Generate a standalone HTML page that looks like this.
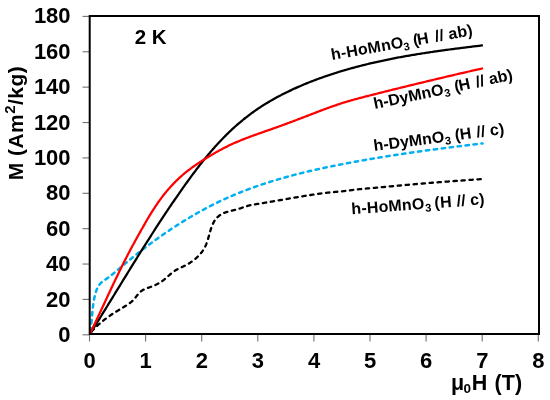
<!DOCTYPE html>
<html><head><meta charset="utf-8"><style>
html,body{margin:0;padding:0;background:#fff;width:550px;height:400px;overflow:hidden}
svg{display:block}
</style></head><body>
<svg width="550" height="400" viewBox="0 0 550 400">
<rect width="550" height="400" fill="#fff"/>
<g stroke="#707070" stroke-width="1.1"><line x1="82.5" y1="334.80" x2="89" y2="334.80"/><line x1="82.5" y1="299.42" x2="89" y2="299.42"/><line x1="82.5" y1="264.04" x2="89" y2="264.04"/><line x1="82.5" y1="228.67" x2="89" y2="228.67"/><line x1="82.5" y1="193.29" x2="89" y2="193.29"/><line x1="82.5" y1="157.91" x2="89" y2="157.91"/><line x1="82.5" y1="122.53" x2="89" y2="122.53"/><line x1="82.5" y1="87.15" x2="89" y2="87.15"/><line x1="82.5" y1="51.78" x2="89" y2="51.78"/><line x1="82.5" y1="16.40" x2="89" y2="16.40"/><line x1="89.50" y1="335" x2="89.50" y2="341.5"/><line x1="145.60" y1="335" x2="145.60" y2="341.5"/><line x1="201.70" y1="335" x2="201.70" y2="341.5"/><line x1="257.80" y1="335" x2="257.80" y2="341.5"/><line x1="313.90" y1="335" x2="313.90" y2="341.5"/><line x1="370.00" y1="335" x2="370.00" y2="341.5"/><line x1="426.10" y1="335" x2="426.10" y2="341.5"/><line x1="482.20" y1="335" x2="482.20" y2="341.5"/><line x1="538.30" y1="335" x2="538.30" y2="341.5"/></g>
<g fill="none" stroke-linecap="butt" stroke-linejoin="round">
<path d="M89.58,333.92 L90.23,333.13 L90.89,332.35 L91.55,331.59 L92.23,330.83 L92.91,330.09 L93.60,329.36 L94.29,328.63 L94.99,327.92 L95.70,327.22 L96.41,326.52 L97.14,325.84 L97.86,325.16 L98.60,324.50 L99.34,323.84 L100.09,323.19 L100.84,322.55 L101.60,321.92 L102.37,321.29 L103.15,320.67 L103.93,320.06 L104.71,319.46 L105.50,318.86 L106.30,318.27 L107.11,317.68 L107.92,317.10 L108.74,316.52 L109.56,315.95 L110.39,315.39 L111.23,314.83 L112.07,314.27 L112.91,313.72 L113.77,313.17 L114.63,312.62 L115.49,312.08 L116.36,311.54 L117.23,311.00 L118.10,310.47 L118.97,309.94 L119.85,309.41 L120.72,308.88 L121.59,308.35 L122.45,307.82 L123.31,307.29 L124.17,306.76 L125.01,306.23 L125.85,305.70 L126.68,305.17 L127.50,304.63 L128.31,304.10 L129.11,303.55 L129.89,303.00 L130.65,302.42 L131.40,301.81 L132.14,301.17 L132.85,300.48 L133.55,299.75 L134.23,298.99 L134.90,298.21 L135.55,297.41 L136.19,296.61 L136.82,295.80 L137.45,295.00 L138.10,294.22 L138.76,293.47 L139.45,292.74 L140.15,292.06 L140.89,291.42 L141.66,290.84 L142.46,290.31 L143.29,289.83 L144.15,289.39 L145.03,288.99 L145.93,288.61 L146.85,288.26 L147.78,287.93 L148.73,287.60 L149.68,287.27 L150.64,286.94 L151.60,286.60 L152.57,286.24 L153.53,285.85 L154.48,285.44 L155.42,285.01 L156.36,284.56 L157.27,284.09 L158.17,283.61 L159.05,283.11 L159.91,282.59 L160.74,282.06 L161.56,281.52 L162.36,280.96 L163.14,280.38 L163.91,279.80 L164.68,279.19 L165.43,278.57 L166.19,277.93 L166.93,277.28 L167.68,276.61 L168.43,275.93 L169.19,275.24 L169.95,274.55 L170.71,273.87 L171.49,273.21 L172.29,272.58 L173.09,271.97 L173.92,271.40 L174.75,270.85 L175.60,270.34 L176.46,269.84 L177.33,269.37 L178.21,268.91 L179.09,268.46 L179.98,268.02 L180.87,267.59 L181.77,267.16 L182.66,266.73 L183.56,266.30 L184.46,265.86 L185.35,265.41 L186.23,264.95 L187.12,264.47 L187.99,263.97 L188.86,263.46 L189.72,262.93 L190.57,262.38 L191.41,261.82 L192.23,261.24 L193.05,260.65 L193.86,260.03 L194.65,259.41 L195.43,258.76 L196.19,258.10 L196.93,257.43 L197.67,256.73 L198.38,256.03 L199.07,255.30 L199.75,254.56 L200.41,253.81 L201.04,253.04 L201.66,252.26 L202.25,251.46 L202.82,250.64 L203.36,249.81 L203.88,248.97 L204.38,248.11 L204.85,247.23 L205.29,246.34 L205.70,245.44 L206.10,244.53 L206.47,243.60 L206.82,242.66 L207.15,241.72 L207.47,240.76 L207.78,239.80 L208.07,238.84 L208.36,237.87 L208.64,236.89 L208.91,235.92 L209.18,234.94 L209.45,233.96 L209.73,232.99 L210.01,232.01 L210.29,231.05 L210.58,230.08 L210.89,229.12 L211.20,228.17 L211.53,227.23 L211.88,226.29 L212.24,225.36 L212.63,224.44 L213.04,223.54 L213.48,222.65 L213.95,221.77 L214.46,220.92 L215.00,220.09 L215.59,219.28 L216.22,218.50 L216.89,217.76 L217.61,217.04 L218.37,216.36 L219.16,215.73 L219.98,215.13 L220.83,214.58 L221.69,214.08 L222.57,213.62 L223.47,213.20 L224.38,212.82 L225.30,212.47 L226.23,212.15 L227.18,211.86 L228.13,211.59 L229.09,211.33 L230.05,211.09 L231.02,210.86 L231.99,210.63 L232.96,210.41 L233.94,210.18 L234.91,209.95 L235.88,209.70 L236.85,209.45 L237.83,209.18 L238.80,208.89 L239.77,208.57 L240.74,208.24 L241.72,207.89 L242.69,207.54 L243.66,207.19 L244.63,206.85 L245.61,206.52 L246.58,206.22 L247.55,205.94 L248.52,205.69 L249.50,205.45 L250.47,205.23 L251.45,205.02 L252.42,204.83 L253.39,204.65 L254.37,204.47 L255.34,204.31 L256.32,204.15 L257.30,203.99 L258.27,203.83 L259.25,203.67 L260.23,203.51 L261.20,203.35 L262.18,203.19 L263.16,203.03 L264.14,202.86 L265.12,202.70 L266.10,202.53 L267.08,202.37 L268.06,202.20 L269.04,202.03 L270.02,201.87 L271.00,201.70 L271.98,201.53 L272.96,201.36 L273.95,201.19 L274.93,201.02 L275.91,200.85 L276.90,200.68 L277.88,200.51 L278.86,200.34 L279.85,200.17 L280.83,200.00 L281.82,199.83 L282.80,199.65 L283.79,199.48 L284.78,199.31 L285.76,199.14 L286.75,198.97 L287.74,198.80 L288.72,198.62 L289.71,198.45 L290.70,198.28 L291.69,198.11 L292.67,197.94 L293.66,197.77 L294.65,197.60 L295.64,197.43 L296.63,197.27 L297.62,197.10 L298.61,196.93 L299.60,196.76 L300.59,196.60 L301.58,196.43 L302.57,196.27 L303.56,196.11 L304.55,195.94 L305.54,195.78 L306.53,195.62 L307.52,195.47 L308.52,195.31 L309.51,195.16 L310.50,195.00 L311.49,194.85 L312.48,194.70 L313.48,194.55 L314.47,194.41 L315.46,194.26 L316.46,194.12 L317.45,193.98 L318.44,193.84 L319.43,193.71 L320.43,193.57 L321.42,193.44 L322.41,193.31 L323.41,193.19 L324.40,193.07 L325.40,192.95 L326.39,192.83 L327.38,192.71 L328.38,192.60 L329.37,192.50 L330.37,192.39 L331.36,192.29 L332.35,192.19 L333.35,192.10 L334.34,192.00 L335.34,191.91 L336.33,191.83 L337.33,191.74 L338.32,191.65 L339.32,191.57 L340.31,191.48 L341.31,191.39 L342.30,191.29 L343.30,191.19 L344.29,191.09 L345.29,190.98 L346.28,190.87 L347.28,190.75 L348.27,190.62 L349.27,190.50 L350.26,190.37 L351.26,190.23 L352.25,190.10 L353.25,189.97 L354.24,189.84 L355.24,189.71 L356.23,189.58 L357.23,189.46 L358.22,189.34 L359.22,189.23 L360.21,189.12 L361.21,189.02 L362.21,188.92 L363.20,188.82 L364.20,188.73 L365.19,188.64 L366.19,188.55 L367.18,188.47 L368.18,188.38 L369.18,188.30 L370.17,188.22 L371.17,188.13 L372.16,188.05 L373.16,187.96 L374.16,187.87 L375.15,187.79 L376.15,187.70 L377.15,187.61 L378.14,187.52 L379.14,187.43 L380.13,187.34 L381.13,187.25 L382.13,187.16 L383.12,187.07 L384.12,186.98 L385.12,186.89 L386.11,186.79 L387.11,186.70 L388.11,186.61 L389.10,186.52 L390.10,186.43 L391.10,186.33 L392.09,186.24 L393.09,186.15 L394.09,186.06 L395.08,185.96 L396.08,185.87 L397.08,185.78 L398.07,185.69 L399.07,185.60 L400.07,185.50 L401.06,185.41 L402.06,185.32 L403.06,185.23 L404.06,185.14 L405.05,185.05 L406.05,184.96 L407.05,184.87 L408.04,184.78 L409.04,184.69 L410.04,184.60 L411.04,184.52 L412.03,184.43 L413.03,184.34 L414.03,184.25 L415.03,184.17 L416.02,184.08 L417.02,184.00 L418.02,183.91 L419.02,183.83 L420.01,183.75 L421.01,183.66 L422.01,183.58 L423.01,183.50 L424.00,183.41 L425.00,183.33 L426.00,183.25 L427.00,183.17 L427.99,183.09 L428.99,183.01 L429.99,182.93 L430.99,182.85 L431.99,182.77 L432.98,182.69 L433.98,182.61 L434.98,182.53 L435.98,182.45 L436.98,182.38 L437.97,182.30 L438.97,182.22 L439.97,182.14 L440.97,182.07 L441.97,181.99 L442.96,181.91 L443.96,181.84 L444.96,181.76 L445.96,181.69 L446.96,181.61 L447.95,181.54 L448.95,181.46 L449.95,181.39 L450.95,181.31 L451.95,181.24 L452.95,181.16 L453.94,181.09 L454.94,181.02 L455.94,180.94 L456.94,180.87 L457.94,180.80 L458.94,180.72 L459.93,180.65 L460.93,180.58 L461.93,180.50 L462.93,180.43 L463.93,180.36 L464.93,180.29 L465.92,180.21 L466.92,180.14 L467.92,180.07 L468.92,180.00 L469.92,179.93 L470.92,179.86 L471.92,179.78 L472.91,179.71 L473.91,179.64 L474.91,179.57 L475.91,179.50 L476.91,179.43 L477.91,179.36 L478.91,179.28 L479.90,179.21 L480.90,179.14 L481.90,179.07 L482.90,179.00" stroke="#000" stroke-width="2.3" stroke-linecap="round" stroke-dasharray="3.4,4.6" stroke-dashoffset="-3"/>
<path d="M89.71,333.93 L89.91,332.98 L90.10,332.02 L90.28,331.05 L90.45,330.08 L90.61,329.11 L90.76,328.13 L90.90,327.15 L91.03,326.16 L91.15,325.17 L91.27,324.18 L91.38,323.18 L91.49,322.18 L91.59,321.18 L91.68,320.18 L91.77,319.17 L91.86,318.17 L91.95,317.16 L92.04,316.15 L92.13,315.14 L92.21,314.13 L92.30,313.12 L92.39,312.12 L92.49,311.11 L92.58,310.10 L92.69,309.09 L92.79,308.09 L92.90,307.08 L93.02,306.08 L93.15,305.08 L93.28,304.08 L93.42,303.09 L93.57,302.09 L93.73,301.10 L93.90,300.12 L94.09,299.14 L94.28,298.16 L94.49,297.19 L94.71,296.22 L94.95,295.25 L95.20,294.29 L95.47,293.34 L95.76,292.39 L96.06,291.45 L96.38,290.52 L96.73,289.60 L97.11,288.69 L97.51,287.81 L97.95,286.94 L98.42,286.10 L98.94,285.29 L99.50,284.51 L100.10,283.76 L100.75,283.05 L101.45,282.37 L102.21,281.75 L103.01,281.15 L103.85,280.58 L104.70,280.02 L105.55,279.46 L106.39,278.89 L107.22,278.31 L108.05,277.72 L108.86,277.12 L109.67,276.51 L110.47,275.89 L111.27,275.27 L112.05,274.65 L112.84,274.01 L113.62,273.37 L114.39,272.73 L115.16,272.09 L115.93,271.44 L116.69,270.79 L117.46,270.14 L118.22,269.49 L118.98,268.83 L119.74,268.18 L120.51,267.53 L121.27,266.88 L122.03,266.24 L122.80,265.59 L123.56,264.94 L124.33,264.30 L125.09,263.66 L125.86,263.02 L126.63,262.38 L127.40,261.74 L128.17,261.11 L128.94,260.47 L129.71,259.84 L130.48,259.21 L131.26,258.58 L132.03,257.95 L132.80,257.32 L133.58,256.70 L134.36,256.07 L135.14,255.45 L135.91,254.83 L136.69,254.21 L137.47,253.59 L138.26,252.97 L139.04,252.36 L139.82,251.74 L140.61,251.13 L141.39,250.52 L142.18,249.91 L142.97,249.30 L143.76,248.70 L144.55,248.09 L145.34,247.49 L146.13,246.89 L146.92,246.29 L147.72,245.69 L148.51,245.09 L149.31,244.50 L150.11,243.90 L150.91,243.31 L151.71,242.72 L152.51,242.13 L153.31,241.54 L154.11,240.96 L154.92,240.37 L155.73,239.79 L156.53,239.21 L157.34,238.63 L158.15,238.05 L158.97,237.47 L159.78,236.89 L160.59,236.32 L161.41,235.75 L162.23,235.18 L163.05,234.61 L163.87,234.04 L164.69,233.47 L165.51,232.91 L166.33,232.35 L167.16,231.79 L167.99,231.23 L168.82,230.67 L169.65,230.11 L170.48,229.56 L171.31,229.00 L172.15,228.45 L172.98,227.90 L173.82,227.35 L174.66,226.80 L175.50,226.26 L176.34,225.71 L177.19,225.17 L178.03,224.63 L178.88,224.09 L179.73,223.56 L180.58,223.02 L181.43,222.49 L182.29,221.96 L183.14,221.43 L184.00,220.90 L184.85,220.37 L185.71,219.85 L186.57,219.32 L187.44,218.80 L188.30,218.29 L189.17,217.77 L190.03,217.25 L190.90,216.74 L191.77,216.23 L192.64,215.72 L193.51,215.22 L194.38,214.71 L195.26,214.21 L196.13,213.71 L197.01,213.21 L197.89,212.72 L198.77,212.23 L199.65,211.74 L200.53,211.25 L201.41,210.76 L202.30,210.28 L203.18,209.80 L204.07,209.32 L204.96,208.84 L205.85,208.37 L206.74,207.90 L207.63,207.43 L208.52,206.96 L209.41,206.50 L210.31,206.04 L211.20,205.58 L212.10,205.12 L213.00,204.67 L213.90,204.22 L214.80,203.77 L215.70,203.32 L216.60,202.88 L217.50,202.44 L218.41,202.00 L219.31,201.57 L220.22,201.14 L221.12,200.71 L222.03,200.29 L222.94,199.86 L223.85,199.44 L224.76,199.03 L225.67,198.61 L226.58,198.20 L227.50,197.79 L228.41,197.39 L229.33,196.98 L230.24,196.58 L231.16,196.19 L232.08,195.79 L233.00,195.40 L233.91,195.01 L234.83,194.62 L235.76,194.24 L236.68,193.86 L237.60,193.48 L238.52,193.10 L239.45,192.73 L240.37,192.36 L241.30,191.99 L242.23,191.62 L243.16,191.26 L244.08,190.90 L245.01,190.54 L245.94,190.18 L246.88,189.83 L247.81,189.47 L248.74,189.13 L249.67,188.78 L250.61,188.43 L251.54,188.09 L252.48,187.75 L253.41,187.41 L254.35,187.08 L255.29,186.75 L256.23,186.42 L257.17,186.09 L258.11,185.76 L259.05,185.44 L259.99,185.12 L260.93,184.80 L261.88,184.48 L262.82,184.16 L263.77,183.85 L264.71,183.54 L265.66,183.23 L266.60,182.93 L267.55,182.62 L268.50,182.32 L269.45,182.02 L270.40,181.72 L271.35,181.42 L272.30,181.13 L273.25,180.84 L274.20,180.55 L275.16,180.26 L276.11,179.97 L277.06,179.69 L278.02,179.41 L278.97,179.13 L279.93,178.85 L280.89,178.57 L281.84,178.29 L282.80,178.02 L283.76,177.75 L284.72,177.48 L285.68,177.21 L286.64,176.95 L287.60,176.68 L288.56,176.42 L289.52,176.16 L290.48,175.90 L291.45,175.64 L292.41,175.39 L293.37,175.13 L294.34,174.88 L295.30,174.63 L296.27,174.38 L297.24,174.13 L298.20,173.89 L299.17,173.64 L300.14,173.40 L301.11,173.16 L302.08,172.92 L303.04,172.68 L304.01,172.44 L304.98,172.21 L305.96,171.97 L306.93,171.74 L307.90,171.51 L308.87,171.28 L309.84,171.05 L310.82,170.82 L311.79,170.60 L312.76,170.37 L313.74,170.15 L314.71,169.93 L315.69,169.71 L316.67,169.49 L317.64,169.27 L318.62,169.05 L319.60,168.84 L320.57,168.62 L321.55,168.41 L322.53,168.20 L323.51,167.99 L324.49,167.78 L325.47,167.57 L326.45,167.36 L327.43,167.16 L328.41,166.95 L329.39,166.75 L330.37,166.54 L331.35,166.34 L332.33,166.14 L333.31,165.94 L334.30,165.74 L335.28,165.54 L336.26,165.35 L337.25,165.15 L338.23,164.96 L339.22,164.76 L340.20,164.57 L341.19,164.38 L342.17,164.18 L343.16,163.99 L344.14,163.80 L345.13,163.61 L346.11,163.43 L347.10,163.24 L348.09,163.05 L349.07,162.87 L350.06,162.68 L351.05,162.50 L352.04,162.31 L353.03,162.13 L354.01,161.95 L355.00,161.77 L355.99,161.59 L356.98,161.41 L357.97,161.23 L358.96,161.05 L359.95,160.87 L360.94,160.69 L361.93,160.52 L362.92,160.34 L363.91,160.17 L364.90,159.99 L365.89,159.82 L366.88,159.65 L367.87,159.48 L368.86,159.30 L369.86,159.13 L370.85,158.96 L371.84,158.80 L372.83,158.63 L373.82,158.46 L374.81,158.29 L375.81,158.13 L376.80,157.96 L377.79,157.80 L378.78,157.63 L379.78,157.47 L380.77,157.31 L381.76,157.14 L382.76,156.98 L383.75,156.82 L384.74,156.66 L385.73,156.50 L386.73,156.34 L387.72,156.18 L388.71,156.03 L389.71,155.87 L390.70,155.71 L391.69,155.56 L392.69,155.40 L393.68,155.25 L394.68,155.09 L395.67,154.94 L396.66,154.79 L397.66,154.64 L398.65,154.49 L399.64,154.33 L400.64,154.18 L401.63,154.04 L402.62,153.89 L403.62,153.74 L404.61,153.59 L405.61,153.44 L406.60,153.30 L407.59,153.15 L408.59,153.00 L409.58,152.86 L410.57,152.72 L411.57,152.57 L412.56,152.43 L413.55,152.29 L414.55,152.14 L415.54,152.00 L416.53,151.86 L417.52,151.72 L418.52,151.58 L419.51,151.44 L420.50,151.30 L421.49,151.16 L422.49,151.03 L423.48,150.89 L424.47,150.75 L425.46,150.62 L426.45,150.48 L427.45,150.35 L428.44,150.21 L429.43,150.08 L430.42,149.94 L431.41,149.81 L432.40,149.68 L433.39,149.54 L434.38,149.41 L435.37,149.28 L436.36,149.15 L437.35,149.02 L438.34,148.89 L439.33,148.76 L440.32,148.63 L441.31,148.50 L442.30,148.37 L443.29,148.25 L444.28,148.12 L445.26,147.99 L446.25,147.87 L447.24,147.74 L448.23,147.62 L449.22,147.49 L450.20,147.37 L451.19,147.24 L452.18,147.12 L453.16,146.99 L454.15,146.87 L455.13,146.75 L456.12,146.63 L457.10,146.51 L458.09,146.38 L459.07,146.26 L460.06,146.14 L461.04,146.02 L462.02,145.90 L463.01,145.78 L463.99,145.66 L464.97,145.55 L465.95,145.43 L466.94,145.31 L467.92,145.19 L468.90,145.08 L469.88,144.96 L470.86,144.84 L471.84,144.73 L472.82,144.61 L473.80,144.49 L474.78,144.38 L475.75,144.26 L476.73,144.15 L477.71,144.04 L478.69,143.92 L479.66,143.81 L480.64,143.70 L481.62,143.58 L482.59,143.47" stroke="#00b0f0" stroke-width="2.5" stroke-linecap="round" stroke-dasharray="3.4,4.6" stroke-dashoffset="-2.6"/>
<path d="M89.99,333.89 L90.63,332.87 L91.27,331.84 L91.91,330.82 L92.56,329.80 L93.20,328.77 L93.84,327.75 L94.48,326.73 L95.11,325.70 L95.75,324.68 L96.39,323.65 L97.03,322.63 L97.66,321.61 L98.30,320.58 L98.94,319.56 L99.57,318.54 L100.20,317.51 L100.84,316.49 L101.47,315.47 L102.11,314.44 L102.74,313.42 L103.37,312.39 L104.00,311.37 L104.63,310.35 L105.27,309.32 L105.90,308.30 L106.53,307.28 L107.16,306.25 L107.79,305.23 L108.42,304.21 L109.05,303.18 L109.68,302.16 L110.31,301.14 L110.94,300.11 L111.56,299.09 L112.19,298.07 L112.82,297.05 L113.45,296.02 L114.08,295.00 L114.70,293.98 L115.33,292.96 L115.96,291.93 L116.59,290.91 L117.21,289.89 L117.84,288.87 L118.47,287.85 L119.10,286.82 L119.72,285.80 L120.35,284.78 L120.98,283.76 L121.61,282.74 L122.23,281.72 L122.86,280.70 L123.49,279.68 L124.12,278.66 L124.74,277.64 L125.37,276.62 L126.00,275.60 L126.63,274.58 L127.26,273.56 L127.88,272.54 L128.51,271.52 L129.14,270.50 L129.77,269.48 L130.40,268.47 L131.03,267.45 L131.66,266.43 L132.29,265.41 L132.92,264.40 L133.55,263.38 L134.18,262.36 L134.81,261.34 L135.44,260.33 L136.08,259.31 L136.71,258.30 L137.34,257.28 L137.97,256.27 L138.61,255.25 L139.24,254.24 L139.88,253.22 L140.51,252.21 L141.15,251.19 L141.78,250.18 L142.42,249.17 L143.06,248.15 L143.69,247.14 L144.33,246.13 L144.97,245.12 L145.61,244.11 L146.25,243.10 L146.89,242.08 L147.53,241.07 L148.17,240.06 L148.82,239.05 L149.46,238.05 L150.10,237.04 L150.75,236.03 L151.39,235.02 L152.04,234.01 L152.68,233.00 L153.33,232.00 L153.98,230.99 L154.63,229.98 L155.28,228.98 L155.93,227.97 L156.58,226.97 L157.23,225.96 L157.89,224.96 L158.54,223.95 L159.19,222.95 L159.85,221.95 L160.51,220.95 L161.16,219.94 L161.82,218.94 L162.48,217.94 L163.14,216.94 L163.80,215.94 L164.47,214.94 L165.13,213.94 L165.79,212.94 L166.46,211.94 L167.13,210.95 L167.79,209.95 L168.46,208.95 L169.13,207.96 L169.80,206.96 L170.48,205.96 L171.15,204.97 L171.82,203.98 L172.50,202.98 L173.18,201.99 L173.85,201.00 L174.53,200.00 L175.21,199.01 L175.89,198.02 L176.58,197.03 L177.26,196.04 L177.95,195.05 L178.63,194.06 L179.32,193.07 L180.01,192.09 L180.70,191.10 L181.40,190.11 L182.09,189.13 L182.78,188.14 L183.48,187.16 L184.18,186.17 L184.88,185.19 L185.58,184.21 L186.28,183.23 L186.99,182.25 L187.69,181.27 L188.40,180.29 L189.11,179.31 L189.82,178.34 L190.54,177.36 L191.25,176.39 L191.97,175.42 L192.69,174.45 L193.41,173.48 L194.14,172.51 L194.86,171.55 L195.59,170.59 L196.32,169.62 L197.05,168.67 L197.79,167.71 L198.53,166.75 L199.27,165.80 L200.01,164.85 L200.75,163.90 L201.50,162.95 L202.25,162.00 L203.00,161.06 L203.76,160.12 L204.52,159.18 L205.28,158.25 L206.04,157.32 L206.81,156.39 L207.58,155.46 L208.35,154.53 L209.13,153.61 L209.91,152.69 L210.69,151.78 L211.48,150.86 L212.27,149.95 L213.06,149.05 L213.85,148.14 L214.65,147.24 L215.45,146.35 L216.26,145.45 L217.07,144.56 L217.88,143.68 L218.69,142.79 L219.51,141.91 L220.34,141.04 L221.16,140.16 L221.99,139.30 L222.83,138.43 L223.66,137.57 L224.51,136.71 L225.35,135.86 L226.20,135.01 L227.06,134.17 L227.91,133.33 L228.78,132.49 L229.64,131.66 L230.51,130.83 L231.39,130.01 L232.26,129.19 L233.15,128.38 L234.03,127.57 L234.93,126.77 L235.82,125.97 L236.72,125.17 L237.62,124.38 L238.53,123.60 L239.44,122.82 L240.36,122.04 L241.28,121.27 L242.20,120.51 L243.13,119.75 L244.06,119.00 L245.00,118.25 L245.93,117.51 L246.88,116.77 L247.82,116.04 L248.77,115.31 L249.73,114.59 L250.69,113.88 L251.65,113.17 L252.61,112.47 L253.58,111.77 L254.55,111.08 L255.53,110.40 L256.51,109.72 L257.49,109.05 L258.48,108.38 L259.47,107.72 L260.46,107.07 L261.46,106.42 L262.46,105.78 L263.46,105.15 L264.47,104.52 L265.48,103.89 L266.49,103.27 L267.51,102.66 L268.53,102.05 L269.55,101.45 L270.58,100.85 L271.61,100.26 L272.64,99.67 L273.68,99.08 L274.72,98.51 L275.76,97.93 L276.80,97.36 L277.85,96.80 L278.90,96.24 L279.96,95.69 L281.01,95.13 L282.07,94.59 L283.14,94.05 L284.20,93.51 L285.27,92.97 L286.34,92.44 L287.42,91.92 L288.49,91.40 L289.57,90.88 L290.65,90.37 L291.74,89.86 L292.82,89.35 L293.91,88.85 L295.00,88.36 L296.10,87.86 L297.19,87.38 L298.29,86.89 L299.39,86.41 L300.49,85.93 L301.60,85.46 L302.71,84.99 L303.81,84.53 L304.93,84.06 L306.04,83.61 L307.15,83.15 L308.27,82.70 L309.39,82.26 L310.51,81.82 L311.63,81.38 L312.76,80.94 L313.88,80.51 L315.01,80.08 L316.14,79.66 L317.27,79.24 L318.40,78.82 L319.54,78.41 L320.67,78.00 L321.81,77.59 L322.95,77.19 L324.09,76.79 L325.23,76.39 L326.37,76.00 L327.51,75.61 L328.66,75.23 L329.80,74.85 L330.95,74.47 L332.10,74.09 L333.25,73.72 L334.40,73.35 L335.55,72.98 L336.70,72.62 L337.85,72.26 L339.01,71.91 L340.16,71.55 L341.31,71.20 L342.47,70.86 L343.63,70.51 L344.78,70.17 L345.94,69.84 L347.10,69.50 L348.26,69.17 L349.42,68.84 L350.58,68.52 L351.74,68.19 L352.90,67.88 L354.06,67.56 L355.22,67.25 L356.39,66.93 L357.55,66.63 L358.71,66.32 L359.88,66.02 L361.04,65.72 L362.21,65.42 L363.38,65.13 L364.54,64.84 L365.71,64.55 L366.88,64.26 L368.05,63.98 L369.21,63.70 L370.38,63.42 L371.55,63.15 L372.72,62.87 L373.89,62.60 L375.06,62.34 L376.23,62.07 L377.41,61.81 L378.58,61.55 L379.75,61.29 L380.92,61.03 L382.10,60.78 L383.27,60.53 L384.44,60.28 L385.62,60.04 L386.79,59.79 L387.97,59.55 L389.14,59.31 L390.32,59.08 L391.50,58.84 L392.67,58.61 L393.85,58.38 L395.03,58.15 L396.20,57.92 L397.38,57.70 L398.56,57.48 L399.74,57.26 L400.92,57.04 L402.09,56.82 L403.27,56.61 L404.45,56.40 L405.63,56.19 L406.81,55.98 L407.99,55.77 L409.17,55.57 L410.36,55.36 L411.54,55.16 L412.72,54.96 L413.90,54.77 L415.08,54.57 L416.27,54.38 L417.45,54.18 L418.63,53.99 L419.82,53.80 L421.00,53.61 L422.18,53.43 L423.37,53.24 L424.55,53.06 L425.74,52.88 L426.92,52.70 L428.11,52.52 L429.29,52.34 L430.48,52.16 L431.67,51.99 L432.85,51.81 L434.04,51.64 L435.23,51.47 L436.41,51.30 L437.60,51.13 L438.79,50.96 L439.98,50.80 L441.17,50.63 L442.35,50.47 L443.54,50.30 L444.73,50.14 L445.92,49.98 L447.11,49.82 L448.30,49.66 L449.49,49.50 L450.68,49.35 L451.87,49.19 L453.06,49.03 L454.25,48.88 L455.44,48.72 L456.64,48.57 L457.83,48.42 L459.02,48.27 L460.21,48.12 L461.40,47.97 L462.60,47.82 L463.79,47.67 L464.98,47.52 L466.17,47.37 L467.37,47.22 L468.56,47.08 L469.76,46.93 L470.95,46.78 L472.14,46.64 L473.34,46.49 L474.53,46.35 L475.73,46.20 L476.92,46.06 L478.12,45.92 L479.31,45.77 L480.51,45.63 L481.70,45.49 L482.90,45.34" stroke="#000" stroke-width="2.25"/>
<path d="M89.96,333.78 L90.49,332.70 L91.01,331.61 L91.53,330.53 L92.06,329.44 L92.58,328.36 L93.09,327.27 L93.61,326.19 L94.13,325.10 L94.64,324.01 L95.16,322.93 L95.67,321.84 L96.19,320.75 L96.70,319.66 L97.21,318.57 L97.72,317.49 L98.23,316.40 L98.74,315.31 L99.25,314.22 L99.76,313.13 L100.27,312.04 L100.77,310.95 L101.28,309.86 L101.79,308.77 L102.30,307.68 L102.80,306.59 L103.31,305.50 L103.82,304.41 L104.32,303.32 L104.83,302.23 L105.34,301.14 L105.84,300.05 L106.35,298.96 L106.86,297.87 L107.36,296.78 L107.87,295.69 L108.38,294.60 L108.89,293.51 L109.40,292.42 L109.91,291.34 L110.41,290.25 L110.93,289.16 L111.44,288.07 L111.95,286.98 L112.46,285.90 L112.97,284.81 L113.49,283.72 L114.00,282.64 L114.52,281.55 L115.04,280.47 L115.55,279.38 L116.07,278.30 L116.59,277.21 L117.12,276.13 L117.64,275.05 L118.16,273.97 L118.69,272.88 L119.21,271.80 L119.74,270.72 L120.27,269.64 L120.80,268.56 L121.34,267.49 L121.87,266.41 L122.41,265.33 L122.94,264.25 L123.48,263.18 L124.02,262.10 L124.57,261.03 L125.11,259.96 L125.66,258.88 L126.21,257.81 L126.76,256.74 L127.31,255.67 L127.87,254.60 L128.43,253.53 L128.99,252.47 L129.55,251.40 L130.11,250.33 L130.68,249.27 L131.24,248.21 L131.81,247.15 L132.38,246.08 L132.96,245.02 L133.53,243.97 L134.10,242.91 L134.68,241.85 L135.26,240.80 L135.84,239.74 L136.42,238.69 L137.00,237.64 L137.59,236.59 L138.17,235.54 L138.75,234.49 L139.34,233.44 L139.93,232.40 L140.52,231.35 L141.10,230.31 L141.69,229.27 L142.28,228.23 L142.87,227.19 L143.46,226.16 L144.06,225.12 L144.65,224.09 L145.24,223.05 L145.83,222.02 L146.43,221.00 L147.02,219.97 L147.62,218.94 L148.22,217.92 L148.82,216.90 L149.43,215.87 L150.04,214.86 L150.65,213.84 L151.27,212.82 L151.90,211.81 L152.53,210.80 L153.17,209.79 L153.81,208.78 L154.47,207.77 L155.13,206.77 L155.80,205.76 L156.47,204.76 L157.16,203.77 L157.85,202.77 L158.56,201.78 L159.27,200.79 L159.98,199.81 L160.71,198.83 L161.44,197.85 L162.18,196.88 L162.93,195.91 L163.68,194.95 L164.45,193.99 L165.22,193.04 L165.99,192.09 L166.78,191.15 L167.57,190.21 L168.37,189.29 L169.17,188.37 L169.98,187.45 L170.80,186.54 L171.63,185.64 L172.46,184.75 L173.30,183.87 L174.14,182.99 L174.99,182.12 L175.85,181.26 L176.71,180.41 L177.58,179.57 L178.46,178.74 L179.34,177.92 L180.23,177.11 L181.12,176.31 L182.02,175.52 L182.93,174.74 L183.84,173.97 L184.76,173.21 L185.68,172.45 L186.60,171.71 L187.54,170.97 L188.47,170.25 L189.42,169.53 L190.36,168.82 L191.32,168.11 L192.28,167.42 L193.24,166.73 L194.21,166.04 L195.18,165.37 L196.15,164.69 L197.14,164.03 L198.12,163.36 L199.11,162.71 L200.11,162.05 L201.11,161.40 L202.11,160.76 L203.12,160.12 L204.13,159.48 L205.14,158.84 L206.16,158.21 L207.18,157.58 L208.21,156.95 L209.24,156.33 L210.28,155.71 L211.31,155.09 L212.35,154.47 L213.40,153.86 L214.45,153.26 L215.50,152.65 L216.55,152.06 L217.61,151.47 L218.67,150.88 L219.73,150.30 L220.80,149.72 L221.86,149.15 L222.94,148.58 L224.01,148.03 L225.09,147.47 L226.16,146.93 L227.25,146.39 L228.33,145.86 L229.42,145.34 L230.50,144.82 L231.59,144.31 L232.69,143.81 L233.78,143.32 L234.88,142.83 L235.97,142.35 L237.07,141.88 L238.17,141.41 L239.28,140.95 L240.38,140.50 L241.49,140.05 L242.59,139.61 L243.70,139.17 L244.81,138.74 L245.92,138.31 L247.03,137.88 L248.14,137.46 L249.26,137.04 L250.37,136.63 L251.49,136.22 L252.60,135.81 L253.72,135.40 L254.83,135.00 L255.95,134.60 L257.07,134.20 L258.19,133.80 L259.30,133.40 L260.42,133.00 L261.54,132.61 L262.66,132.22 L263.78,131.82 L264.90,131.43 L266.02,131.04 L267.14,130.64 L268.27,130.25 L269.39,129.86 L270.51,129.47 L271.63,129.07 L272.76,128.68 L273.88,128.28 L275.00,127.88 L276.13,127.49 L277.25,127.09 L278.38,126.69 L279.50,126.28 L280.63,125.88 L281.75,125.47 L282.88,125.06 L284.01,124.65 L285.13,124.23 L286.26,123.82 L287.39,123.40 L288.52,122.98 L289.65,122.56 L290.78,122.14 L291.91,121.71 L293.04,121.29 L294.17,120.86 L295.30,120.43 L296.43,120.00 L297.56,119.57 L298.69,119.14 L299.83,118.70 L300.96,118.27 L302.09,117.83 L303.22,117.40 L304.36,116.96 L305.49,116.52 L306.63,116.09 L307.76,115.65 L308.90,115.21 L310.03,114.77 L311.17,114.34 L312.31,113.90 L313.44,113.46 L314.58,113.02 L315.72,112.59 L316.86,112.15 L317.99,111.72 L319.13,111.29 L320.27,110.85 L321.41,110.42 L322.55,110.00 L323.69,109.57 L324.83,109.14 L325.97,108.72 L327.11,108.30 L328.25,107.89 L329.40,107.47 L330.54,107.06 L331.68,106.65 L332.82,106.25 L333.97,105.85 L335.11,105.45 L336.26,105.06 L337.40,104.67 L338.55,104.29 L339.69,103.91 L340.84,103.53 L341.98,103.16 L343.13,102.80 L344.27,102.44 L345.42,102.09 L346.57,101.74 L347.72,101.40 L348.86,101.06 L350.01,100.73 L351.16,100.40 L352.31,100.07 L353.46,99.75 L354.61,99.44 L355.76,99.12 L356.91,98.81 L358.06,98.51 L359.21,98.20 L360.36,97.90 L361.52,97.60 L362.67,97.30 L363.82,97.00 L364.97,96.71 L366.13,96.41 L367.28,96.11 L368.43,95.82 L369.59,95.53 L370.74,95.23 L371.90,94.94 L373.05,94.64 L374.21,94.35 L375.36,94.06 L376.52,93.76 L377.68,93.47 L378.83,93.18 L379.99,92.89 L381.15,92.60 L382.31,92.30 L383.47,92.01 L384.62,91.72 L385.78,91.43 L386.94,91.14 L388.10,90.85 L389.26,90.56 L390.42,90.27 L391.58,89.98 L392.74,89.70 L393.90,89.41 L395.07,89.12 L396.23,88.83 L397.39,88.54 L398.55,88.26 L399.72,87.97 L400.88,87.68 L402.04,87.40 L403.21,87.11 L404.37,86.82 L405.53,86.54 L406.70,86.25 L407.86,85.97 L409.03,85.68 L410.20,85.40 L411.36,85.12 L412.53,84.83 L413.69,84.55 L414.86,84.26 L416.03,83.98 L417.20,83.70 L418.36,83.42 L419.53,83.13 L420.70,82.85 L421.87,82.57 L423.04,82.29 L424.21,82.01 L425.38,81.73 L426.55,81.44 L427.72,81.16 L428.89,80.88 L430.06,80.60 L431.23,80.32 L432.40,80.04 L433.58,79.77 L434.75,79.49 L435.92,79.21 L437.09,78.93 L438.27,78.65 L439.44,78.37 L440.61,78.09 L441.79,77.82 L442.96,77.54 L444.14,77.26 L445.31,76.99 L446.49,76.71 L447.66,76.43 L448.84,76.16 L450.01,75.88 L451.19,75.61 L452.37,75.33 L453.54,75.06 L454.72,74.78 L455.90,74.51 L457.08,74.23 L458.26,73.96 L459.43,73.68 L460.61,73.41 L461.79,73.14 L462.97,72.86 L464.15,72.59 L465.33,72.32 L466.51,72.05 L467.69,71.77 L468.87,71.50 L470.05,71.23 L471.23,70.96 L472.42,70.69 L473.60,70.42 L474.78,70.14 L475.96,69.87 L477.15,69.60 L478.33,69.33 L479.51,69.06 L480.70,68.79 L481.88,68.52 L483.06,68.25" stroke="#ff0000" stroke-width="2.25"/>
</g>
<rect x="89.7" y="16" width="449.3" height="318" fill="none" stroke="#000" stroke-width="2"/>
<g font-family='"Liberation Sans", Arial, sans-serif' font-weight="bold" fill="#000">
<g font-size="22" text-anchor="end"><text x="70.60" y="341.90">0</text><text x="70.60" y="306.51">20</text><text x="70.60" y="271.12">40</text><text x="70.60" y="235.74">60</text><text x="70.60" y="200.35">80</text><text x="70.60" y="164.96">100</text><text x="70.60" y="129.57">120</text><text x="70.60" y="94.18">140</text><text x="70.60" y="58.80">160</text><text x="70.60" y="23.41">180</text></g>
<g font-size="22" text-anchor="middle"><text x="89.60" y="367.60">0</text><text x="145.70" y="367.60">1</text><text x="201.80" y="367.60">2</text><text x="257.90" y="367.60">3</text><text x="314.00" y="367.60">4</text><text x="370.10" y="367.60">5</text><text x="426.20" y="367.60">6</text><text x="482.30" y="367.60">7</text><text x="538.40" y="367.60">8</text></g>
<text x="134.7" y="43.6" font-size="20.5">2 K</text>
<text x="450.9" y="389.6" font-size="21.5">&#956;<tspan font-size="13.5" dy="3.6" dx="-0.6">0</tspan><tspan x="471.7" dy="-3.6">H</tspan><tspan x="494.6">(T)</tspan></text>
<text transform="translate(22.5,180.2) rotate(-90)" font-size="21" letter-spacing="0.45">M (Am<tspan font-size="15" dy="-7.5">2</tspan><tspan dy="7.5">/kg)</tspan></text>
<g font-size="16">
<text transform="translate(331.9,60.1) rotate(-10)" letter-spacing="0.2"><tspan x="0">h-HoMnO</tspan><tspan dx="-0.5" font-size="11" dy="3.4">3</tspan><tspan x="83.40" dy="-3.4">(</tspan><tspan x="87.35">H</tspan><tspan x="105.50">//</tspan><tspan x="119.10">ab)</tspan></text>
<text transform="translate(374.8,109.1) rotate(-12)" letter-spacing="0.0"><tspan x="0">h-DyMnO</tspan><tspan dx="0.4" font-size="11" dy="3.0">3</tspan><tspan x="82.50" dy="-3.0">(</tspan><tspan x="86.85">H</tspan><tspan x="104.20">//</tspan><tspan x="117.80">ab)</tspan></text>
<text transform="translate(374.3,151.1) rotate(-7.5)" letter-spacing="0.0"><tspan x="0">h-DyMnO</tspan><tspan dx="0.4" font-size="11" dy="3.0">3</tspan><tspan x="81.80" dy="-3.0">(</tspan><tspan x="86.95">H</tspan><tspan x="103.70">//</tspan><tspan x="117.30">c)</tspan></text>
<text transform="translate(351.7,214.3) rotate(-4.3)" letter-spacing="0.2"><tspan x="0">h-HoMnO</tspan><tspan dx="0.4" font-size="11" dy="3.0">3</tspan><tspan x="83.40" dy="-3.0">(</tspan><tspan x="88.95">H</tspan><tspan x="105.50">//</tspan><tspan x="119.10">c)</tspan></text>
</g>
</g>
</svg>
</body></html>
